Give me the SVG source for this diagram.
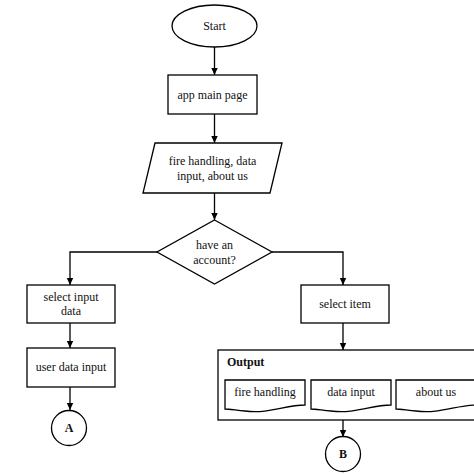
<svg xmlns="http://www.w3.org/2000/svg" width="474" height="474" viewBox="0 0 474 474">
<style>
.s{fill:#fff;stroke:#000;stroke-width:1.3}
.t{font-family:"Liberation Serif","Times New Roman",serif;font-size:12px;fill:#111;text-anchor:middle}
.b{font-family:"Liberation Serif","Times New Roman",serif;font-size:12px;font-weight:bold;fill:#111}
.c{fill:none;stroke:#000;stroke-width:1.3}
</style>
<defs>
<marker id="ah" markerWidth="8" markerHeight="8" refX="7" refY="4" orient="auto" markerUnits="userSpaceOnUse">
<path d="M0,0.8 L7,4 L0,7.2 Z" fill="#000"/>
</marker>
</defs>
<rect width="474" height="474" fill="#fff"/>
<g id="connectors">
<path class="c" d="M214.5,47 V75" marker-end="url(#ah)"/>
<path class="c" d="M214.5,114 V143" marker-end="url(#ah)"/>
<path class="c" d="M214.5,193 V220" marker-end="url(#ah)"/>
<path class="c" d="M157,252 H70 V285" marker-end="url(#ah)"/>
<path class="c" d="M272,252 H343 V285" marker-end="url(#ah)"/>
<path class="c" d="M70,323 V348" marker-end="url(#ah)"/>
<path class="c" d="M70,387 V410" marker-end="url(#ah)"/>
<path class="c" d="M343,323 V350" marker-end="url(#ah)"/>
<path class="c" d="M343,420 V437" marker-end="url(#ah)"/>
</g>
<g id="start">
<ellipse class="s" cx="214.5" cy="26" rx="42.5" ry="21"/>
<text class="t" x="214.5" y="30">Start</text>
</g>
<g id="app-main-page">
<rect class="s" x="168" y="75" width="89" height="39"/>
<text class="t" x="212.5" y="98.5">app main page</text>
</g>
<g id="menu">
<polygon class="s" points="155,143 282,143 270,193 143,193"/>
<text class="t" x="212.5" y="165">fire handling, data</text>
<text class="t" x="212.5" y="180">input, about us</text>
</g>
<g id="decision">
<polygon class="s" points="214.5,220 272,252 214.5,284 157,252"/>
<text class="t" x="214.5" y="249">have an</text>
<text class="t" x="214.5" y="264">account?</text>
</g>
<g id="select-input-data">
<rect class="s" x="27" y="285" width="88" height="38"/>
<text class="t" x="71" y="301">select input</text>
<text class="t" x="71" y="315">data</text>
</g>
<g id="select-item">
<rect class="s" x="301" y="285" width="88" height="38"/>
<text class="t" x="345" y="308">select item</text>
</g>
<g id="user-data-input">
<rect class="s" x="27" y="348" width="88" height="39"/>
<text class="t" x="71" y="371">user data input</text>
</g>
<g id="connector-a">
<circle class="s" cx="69" cy="428" r="17.5"/>
<text class="b" x="69" y="432" text-anchor="middle">A</text>
</g>
<g id="output">
<rect class="s" x="218" y="350" width="262" height="70"/>
<text class="b" x="227" y="366">Output</text>
<path class="s" d="M225,380 H305 V405 C285,405 270,414 245,411 C235,410 228,409 225,409 Z"/>
<text class="t" x="265" y="396">fire handling</text>
<path class="s" d="M311,380 H391 V405 C371,405 356,414 331,411 C321,410 314,409 311,409 Z"/>
<text class="t" x="351" y="396">data input</text>
<path class="s" d="M396,380 H476 V405 C456,405 441,414 416,411 C406,410 399,409 396,409 Z"/>
<text class="t" x="436" y="396">about us</text>
</g>
<g id="connector-b">
<circle class="s" cx="343" cy="454" r="17.5"/>
<text class="b" x="343" y="458" text-anchor="middle">B</text>
</g>
</svg>
